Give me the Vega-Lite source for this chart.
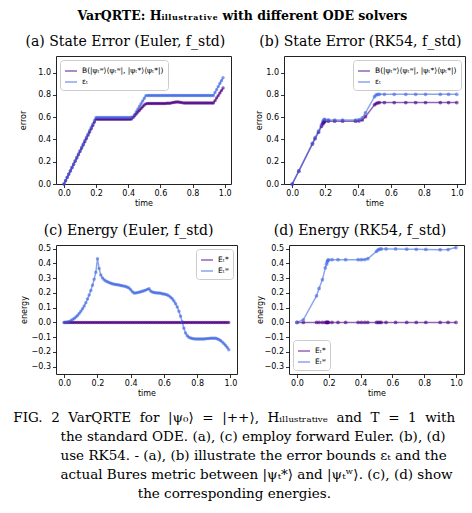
{
"$schema": "https://vega.github.io/schema/vega-lite/v6.json",
"padding": {"left": 13, "top": 10, "right": 4, "bottom": 2},
"background": "white",
"title": {"text": ["FIG. \u00a02 \u00a0VarQRTE \u00a0for \u00a0|ψ₀⟩ \u00a0= \u00a0|++⟩, \u00a0Hᵢₗₗᵤₛₜᵣₐₜᵢᵥₑ \u00a0and \u00a0T \u00a0= \u00a01 \u00a0with", "\u200b\u00a0\u00a0\u00a0\u00a0\u00a0\u00a0\u00a0\u00a0\u00a0\u00a0\u00a0the standard ODE. (a), (c) employ forward Euler. (b), (d)", "\u200b\u00a0\u00a0\u00a0\u00a0\u00a0\u00a0\u00a0\u00a0\u00a0\u00a0\u00a0use RK54. - (a), (b) illustrate the error bounds εₜ and the", "\u200b\u00a0\u00a0\u00a0\u00a0\u00a0\u00a0\u00a0\u00a0\u00a0\u00a0\u00a0actual Bures metric between |ψₜ*⟩ and |ψₜʷ⟩. (c), (d) show", "\u200b\u00a0\u00a0\u00a0\u00a0\u00a0\u00a0\u00a0\u00a0\u00a0\u00a0\u00a0\u00a0\u00a0\u00a0\u00a0\u00a0\u00a0\u00a0\u00a0\u00a0\u00a0\u00a0\u00a0\u00a0\u00a0\u00a0\u00a0\u00a0\u00a0the corresponding energies."], "orient": "bottom", "anchor": "start", "frame": "bounds", "font": "DejaVu Serif", "fontSize": 13.5, "fontWeight": "normal", "lineHeight": 19, "offset": 13, "dx": -6, "color": "#000"},
"datasets": {
"euler_err": [
{"t":0,"b":0,"e":0},{"t":0.01,"b":0.029,"e":0.03},{"t":0.02,"b":0.058,"e":0.06},{"t":0.03,"b":0.088,"e":0.09},{"t":0.04,"b":0.117,"e":0.12},{"t":0.05,"b":0.146,"e":0.15},{"t":0.06,"b":0.175,"e":0.18},{"t":0.07,"b":0.205,"e":0.21},{"t":0.08,"b":0.234,"e":0.24},{"t":0.09,"b":0.263,"e":0.27},
{"t":0.1,"b":0.292,"e":0.3},{"t":0.11,"b":0.322,"e":0.33},{"t":0.12,"b":0.351,"e":0.36},{"t":0.13,"b":0.38,"e":0.39},{"t":0.14,"b":0.409,"e":0.42},{"t":0.15,"b":0.439,"e":0.45},{"t":0.16,"b":0.468,"e":0.48},{"t":0.17,"b":0.497,"e":0.51},{"t":0.18,"b":0.526,"e":0.54},{"t":0.19,"b":0.556,"e":0.57},
{"t":0.2,"b":0.583,"e":0.598},{"t":0.21,"b":0.582,"e":0.598},{"t":0.22,"b":0.582,"e":0.598},{"t":0.23,"b":0.582,"e":0.598},{"t":0.24,"b":0.582,"e":0.598},{"t":0.25,"b":0.582,"e":0.598},{"t":0.26,"b":0.582,"e":0.598},{"t":0.27,"b":0.582,"e":0.598},{"t":0.28,"b":0.582,"e":0.598},{"t":0.29,"b":0.582,"e":0.598},
{"t":0.3,"b":0.582,"e":0.598},{"t":0.31,"b":0.582,"e":0.598},{"t":0.32,"b":0.582,"e":0.598},{"t":0.33,"b":0.582,"e":0.598},{"t":0.34,"b":0.582,"e":0.598},{"t":0.35,"b":0.582,"e":0.598},{"t":0.36,"b":0.582,"e":0.598},{"t":0.37,"b":0.582,"e":0.598},{"t":0.38,"b":0.582,"e":0.598},{"t":0.39,"b":0.582,"e":0.598},
{"t":0.4,"b":0.582,"e":0.598},{"t":0.41,"b":0.582,"e":0.598},{"t":0.42,"b":0.584,"e":0.599},{"t":0.43,"b":0.598,"e":0.602},{"t":0.44,"b":0.614,"e":0.624},{"t":0.45,"b":0.63,"e":0.649},{"t":0.46,"b":0.646,"e":0.673},{"t":0.47,"b":0.662,"e":0.698},{"t":0.48,"b":0.678,"e":0.722},{"t":0.49,"b":0.694,"e":0.746},
{"t":0.5,"b":0.71,"e":0.771},{"t":0.51,"b":0.72,"e":0.794},{"t":0.52,"b":0.723,"e":0.795},{"t":0.53,"b":0.724,"e":0.795},{"t":0.54,"b":0.724,"e":0.795},{"t":0.55,"b":0.724,"e":0.795},{"t":0.56,"b":0.724,"e":0.795},{"t":0.57,"b":0.724,"e":0.795},{"t":0.58,"b":0.724,"e":0.795},{"t":0.59,"b":0.724,"e":0.795},
{"t":0.6,"b":0.724,"e":0.795},{"t":0.61,"b":0.724,"e":0.795},{"t":0.62,"b":0.724,"e":0.795},{"t":0.63,"b":0.724,"e":0.795},{"t":0.64,"b":0.725,"e":0.795},{"t":0.65,"b":0.725,"e":0.795},{"t":0.66,"b":0.726,"e":0.795},{"t":0.67,"b":0.729,"e":0.795},{"t":0.68,"b":0.732,"e":0.795},{"t":0.69,"b":0.735,"e":0.795},
{"t":0.7,"b":0.737,"e":0.795},{"t":0.71,"b":0.737,"e":0.795},{"t":0.72,"b":0.735,"e":0.795},{"t":0.73,"b":0.732,"e":0.795},{"t":0.74,"b":0.729,"e":0.795},{"t":0.75,"b":0.727,"e":0.795},{"t":0.76,"b":0.727,"e":0.795},{"t":0.77,"b":0.727,"e":0.795},{"t":0.78,"b":0.727,"e":0.795},{"t":0.79,"b":0.727,"e":0.795},
{"t":0.8,"b":0.727,"e":0.795},{"t":0.81,"b":0.727,"e":0.795},{"t":0.82,"b":0.727,"e":0.795},{"t":0.83,"b":0.727,"e":0.795},{"t":0.84,"b":0.727,"e":0.795},{"t":0.85,"b":0.727,"e":0.795},{"t":0.86,"b":0.727,"e":0.795},{"t":0.87,"b":0.727,"e":0.795},{"t":0.88,"b":0.727,"e":0.795},{"t":0.89,"b":0.727,"e":0.795},
{"t":0.9,"b":0.727,"e":0.795},{"t":0.91,"b":0.727,"e":0.795},{"t":0.92,"b":0.727,"e":0.795},{"t":0.93,"b":0.728,"e":0.796},{"t":0.94,"b":0.749,"e":0.822},{"t":0.95,"b":0.772,"e":0.848},{"t":0.96,"b":0.794,"e":0.875},{"t":0.97,"b":0.817,"e":0.902},{"t":0.98,"b":0.839,"e":0.928},{"t":0.99,"b":0.862,"e":0.955}
],
"rk_err": [
{"t":0,"b":0,"e":0},{"t":0.04,"b":0.115,"e":0.117},{"t":0.123,"b":0.36,"e":0.366},{"t":0.139,"b":0.408,"e":0.416},{"t":0.16,"b":0.466,"e":0.476},{"t":0.178,"b":0.518,"e":0.534},{"t":0.186,"b":0.54,"e":0.558},{"t":0.19,"b":0.55,"e":0.57},{"t":0.194,"b":0.557,"e":0.578},{"t":0.198,"b":0.562,"e":0.581},
{"t":0.22,"b":0.564,"e":0.576},{"t":0.258,"b":0.564,"e":0.575},{"t":0.306,"b":0.564,"e":0.575},{"t":0.385,"b":0.564,"e":0.575},{"t":0.405,"b":0.566,"e":0.578},{"t":0.426,"b":0.575,"e":0.595},{"t":0.445,"b":0.605,"e":0.64},{"t":0.5,"b":0.712,"e":0.785},{"t":0.51,"b":0.723,"e":0.8},{"t":0.52,"b":0.729,"e":0.805},
{"t":0.53,"b":0.732,"e":0.806},{"t":0.56,"b":0.732,"e":0.806},{"t":0.62,"b":0.732,"e":0.806},{"t":0.69,"b":0.732,"e":0.806},{"t":0.75,"b":0.732,"e":0.806},{"t":0.81,"b":0.732,"e":0.806},{"t":0.9,"b":0.732,"e":0.806},{"t":0.95,"b":0.732,"e":0.806},{"t":1.0,"b":0.732,"e":0.806}
],
"euler_en": [
{"t":0,"s":0,"w":0},{"t":0.01,"s":0,"w":0.001},{"t":0.02,"s":0,"w":0.003},{"t":0.03,"s":0,"w":0.007},{"t":0.04,"s":0,"w":0.012},{"t":0.05,"s":0,"w":0.019},{"t":0.06,"s":0,"w":0.027},{"t":0.07,"s":0,"w":0.036},{"t":0.08,"s":0,"w":0.047},{"t":0.09,"s":0,"w":0.06},
{"t":0.1,"s":0,"w":0.075},{"t":0.11,"s":0,"w":0.092},{"t":0.12,"s":0,"w":0.111},{"t":0.13,"s":0,"w":0.133},{"t":0.14,"s":0,"w":0.158},{"t":0.15,"s":0,"w":0.186},{"t":0.16,"s":0,"w":0.217},{"t":0.17,"s":0,"w":0.252},{"t":0.18,"s":0,"w":0.292},{"t":0.19,"s":0,"w":0.34},
{"t":0.2,"s":0,"w":0.432},{"t":0.21,"s":0,"w":0.365},{"t":0.22,"s":0,"w":0.322},{"t":0.23,"s":0,"w":0.302},{"t":0.24,"s":0,"w":0.29},{"t":0.25,"s":0,"w":0.281},{"t":0.26,"s":0,"w":0.275},{"t":0.27,"s":0,"w":0.27},{"t":0.28,"s":0,"w":0.266},{"t":0.29,"s":0,"w":0.262},
{"t":0.3,"s":0,"w":0.259},{"t":0.31,"s":0,"w":0.257},{"t":0.32,"s":0,"w":0.255},{"t":0.33,"s":0,"w":0.253},{"t":0.34,"s":0,"w":0.251},{"t":0.35,"s":0,"w":0.249},{"t":0.36,"s":0,"w":0.246},{"t":0.37,"s":0,"w":0.243},{"t":0.38,"s":0,"w":0.239},{"t":0.39,"s":0,"w":0.233},
{"t":0.4,"s":0,"w":0.222},{"t":0.41,"s":0,"w":0.208},{"t":0.42,"s":0,"w":0.2},{"t":0.43,"s":0,"w":0.199},{"t":0.44,"s":0,"w":0.202},{"t":0.45,"s":0,"w":0.205},{"t":0.46,"s":0,"w":0.208},{"t":0.47,"s":0,"w":0.211},{"t":0.48,"s":0,"w":0.214},{"t":0.49,"s":0,"w":0.219},
{"t":0.5,"s":0,"w":0.224},{"t":0.51,"s":0,"w":0.229},{"t":0.52,"s":0,"w":0.213},{"t":0.53,"s":0,"w":0.206},{"t":0.54,"s":0,"w":0.203},{"t":0.55,"s":0,"w":0.201},{"t":0.56,"s":0,"w":0.2},{"t":0.57,"s":0,"w":0.199},{"t":0.58,"s":0,"w":0.197},{"t":0.59,"s":0,"w":0.195},
{"t":0.6,"s":0,"w":0.193},{"t":0.61,"s":0,"w":0.19},{"t":0.62,"s":0,"w":0.186},{"t":0.63,"s":0,"w":0.18},{"t":0.64,"s":0,"w":0.171},{"t":0.65,"s":0,"w":0.16},{"t":0.66,"s":0,"w":0.145},{"t":0.67,"s":0,"w":0.127},{"t":0.68,"s":0,"w":0.104},{"t":0.69,"s":0,"w":0.076},
{"t":0.7,"s":0,"w":0.042},{"t":0.71,"s":0,"w":0.002},{"t":0.72,"s":0,"w":-0.04},{"t":0.73,"s":0,"w":-0.072},{"t":0.74,"s":0,"w":-0.09},{"t":0.75,"s":0,"w":-0.1},{"t":0.76,"s":0,"w":-0.106},{"t":0.77,"s":0,"w":-0.109},{"t":0.78,"s":0,"w":-0.111},{"t":0.79,"s":0,"w":-0.112},
{"t":0.8,"s":0,"w":-0.113},{"t":0.81,"s":0,"w":-0.113},{"t":0.82,"s":0,"w":-0.113},{"t":0.83,"s":0,"w":-0.113},{"t":0.84,"s":0,"w":-0.112},{"t":0.85,"s":0,"w":-0.111},{"t":0.86,"s":0,"w":-0.11},{"t":0.87,"s":0,"w":-0.109},{"t":0.88,"s":0,"w":-0.108},{"t":0.89,"s":0,"w":-0.107},
{"t":0.9,"s":0,"w":-0.107},{"t":0.91,"s":0,"w":-0.108},{"t":0.92,"s":0,"w":-0.111},{"t":0.93,"s":0,"w":-0.116},{"t":0.94,"s":0,"w":-0.123},{"t":0.95,"s":0,"w":-0.132},{"t":0.96,"s":0,"w":-0.143},{"t":0.97,"s":0,"w":-0.155},{"t":0.98,"s":0,"w":-0.169},{"t":0.99,"s":0,"w":-0.185}
],
"rk_en": [
{"t":0,"s":0,"w":0},{"t":0.04,"s":0,"w":0.018},{"t":0.123,"s":0,"w":0.18},{"t":0.139,"s":0,"w":0.23},{"t":0.16,"s":0,"w":0.29},{"t":0.178,"s":0,"w":0.37},{"t":0.186,"s":0,"w":0.395},{"t":0.19,"s":0,"w":0.41},{"t":0.194,"s":0,"w":0.42},{"t":0.198,"s":0,"w":0.424},
{"t":0.22,"s":0,"w":0.425},{"t":0.258,"s":0,"w":0.425},{"t":0.306,"s":0,"w":0.425},{"t":0.385,"s":0,"w":0.425},{"t":0.405,"s":0,"w":0.425},{"t":0.426,"s":0,"w":0.426},{"t":0.445,"s":0,"w":0.432},{"t":0.5,"s":0,"w":0.482},{"t":0.51,"s":0,"w":0.492},{"t":0.52,"s":0,"w":0.497},
{"t":0.53,"s":0,"w":0.498},{"t":0.56,"s":0,"w":0.498},{"t":0.62,"s":0,"w":0.498},{"t":0.69,"s":0,"w":0.497},{"t":0.75,"s":0,"w":0.496},{"t":0.81,"s":0,"w":0.495},{"t":0.9,"s":0,"w":0.493},{"t":0.95,"s":0,"w":0.494},{"t":1.0,"s":0,"w":0.508}
]
},
"vconcat": [
{
"title": {"text": "VarQRTE: Hᵢₗₗᵤₛₜᵣₐₜᵢᵥₑ with different ODE solvers", "font": "DejaVu Serif", "fontWeight": "bold", "fontSize": 12.5, "anchor": "middle", "frame": "bounds", "offset": 12},
"columns": 2,
"align": "none",
"spacing": {"row": 15, "column": 17},
"resolve": {"scale": {"color": "independent", "x": "independent", "y": "independent"}, "legend": {"color": "independent"}},
"concat": [
{
"width": 175, "height": 128,
"title": {"text": "(a) State Error (Euler, f_std)"},
"data": {"name": "euler_err"},
"transform": [{"fold": ["b", "e"], "as": ["k", "v"]}],
"mark": {"type": "line", "opacity": 0.6, "strokeWidth": 1.5, "point": {"filled": true, "size": 12, "opacity": 0.6}},
"encoding": {
"x": {"field": "t", "type": "quantitative", "scale": {"domain": [-0.0495, 1.0395], "nice": false, "zero": false}, "axis": {"values": [0, 0.2, 0.4, 0.6, 0.8, 1.0], "format": ".1f", "title": "time"}},
"y": {"field": "v", "type": "quantitative", "scale": {"domain": [0, 1.15], "nice": false}, "axis": {"values": [0, 0.2, 0.4, 0.6, 0.8, 1.0], "format": ".1f", "title": "error", "titlePadding": 10}},
"color": {"field": "k", "type": "nominal", "scale": {"domain": ["b", "e"], "range": ["#4b0082", "#4169e1"]}, "legend": {"title": null, "orient": "top-left", "symbolType": "stroke", "labelExpr": "datum.label === 'b' ? 'B(|ψₜʷ⟩⟨ψₜʷ|, |ψₜ*⟩⟨ψₜ*|)' : 'εₜ'"}}
}
},
{
"width": 181, "height": 128,
"title": {"text": "(b) State Error (RK54, f_std)"},
"data": {"name": "rk_err"},
"transform": [{"fold": ["b", "e"], "as": ["k", "v"]}],
"mark": {"type": "line", "opacity": 0.6, "strokeWidth": 1.5, "point": {"filled": true, "size": 14, "opacity": 0.6}},
"encoding": {
"x": {"field": "t", "type": "quantitative", "scale": {"domain": [-0.05, 1.05], "nice": false, "zero": false}, "axis": {"values": [0, 0.2, 0.4, 0.6, 0.8, 1.0], "format": ".1f", "title": "time"}},
"y": {"field": "v", "type": "quantitative", "scale": {"domain": [0, 1.15], "nice": false}, "axis": {"values": [0, 0.2, 0.4, 0.6, 0.8, 1.0], "format": ".1f", "title": "error", "titlePadding": 2}},
"color": {"field": "k", "type": "nominal", "scale": {"domain": ["b", "e"], "range": ["#4b0082", "#4169e1"]}, "legend": {"title": null, "orient": "top-right", "symbolType": "stroke", "labelExpr": "datum.label === 'b' ? 'B(|ψₜʷ⟩⟨ψₜʷ|, |ψₜ*⟩⟨ψₜ*|)' : 'εₜ'"}}
}
},
{
"width": 181, "height": 129,
"title": {"text": "(c) Energy (Euler, f_std)"},
"data": {"name": "euler_en"},
"transform": [{"fold": ["s", "w"], "as": ["k", "v"]}],
"mark": {"type": "line", "opacity": 0.6, "strokeWidth": 1.5, "point": {"filled": true, "size": 12, "opacity": 0.6}},
"encoding": {
"x": {"field": "t", "type": "quantitative", "scale": {"domain": [-0.0495, 1.0395], "nice": false, "zero": false}, "axis": {"values": [0, 0.2, 0.4, 0.6, 0.8, 1.0], "format": ".1f", "title": "time"}},
"y": {"field": "v", "type": "quantitative", "scale": {"domain": [-0.35, 0.525], "nice": false, "zero": false}, "axis": {"values": [-0.3, -0.2, -0.1, 0, 0.1, 0.2, 0.3, 0.4, 0.5], "format": ".1f", "title": "energy", "titlePadding": 3}},
"color": {"field": "k", "type": "nominal", "scale": {"domain": ["s", "w"], "range": ["#4b0082", "#4169e1"]}, "legend": {"title": null, "orient": "top-right", "symbolType": "stroke", "labelExpr": "datum.label === 's' ? 'Eₜ*' : 'Eₜʷ'"}}
}
},
{
"width": 175, "height": 129,
"title": {"text": "(d) Energy (RK54, f_std)"},
"data": {"name": "rk_en"},
"transform": [{"fold": ["s", "w"], "as": ["k", "v"]}],
"mark": {"type": "line", "opacity": 0.6, "strokeWidth": 1.5, "point": {"filled": true, "size": 14, "opacity": 0.6}},
"encoding": {
"x": {"field": "t", "type": "quantitative", "scale": {"domain": [-0.05, 1.05], "nice": false, "zero": false}, "axis": {"values": [0, 0.2, 0.4, 0.6, 0.8, 1.0], "format": ".1f", "title": "time"}},
"y": {"field": "v", "type": "quantitative", "scale": {"domain": [-0.35, 0.525], "nice": false, "zero": false}, "axis": {"values": [-0.3, -0.2, -0.1, 0, 0.1, 0.2, 0.3, 0.4, 0.5], "format": ".1f", "title": "energy", "titlePadding": 0}},
"color": {"field": "k", "type": "nominal", "scale": {"domain": ["s", "w"], "range": ["#4b0082", "#4169e1"]}, "legend": {"title": null, "orient": "bottom-left", "symbolType": "stroke", "labelExpr": "datum.label === 's' ? 'Eₜ*' : 'Eₜʷ'"}}
}
}
]
}
],
"config": {
"view": {"stroke": "#222", "strokeWidth": 1},
"axis": {"domain": false, "grid": false, "tickColor": "#000", "tickSize": 3.5, "tickWidth": 0.8, "labelFont": "DejaVu Sans", "labelFontSize": 8, "labelColor": "#000", "labelPadding": 2, "titleFont": "DejaVu Sans", "titleFontSize": 8, "titleFontWeight": "normal", "titleColor": "#000", "titlePadding": 2},
"legend": {"padding": 4, "cornerRadius": 3, "fillColor": "rgba(255,255,255,0.8)", "strokeColor": "#cccccc", "labelFont": "DejaVu Sans", "labelFontSize": 7.5, "labelColor": "#000", "symbolType": "stroke", "symbolSize": 144, "symbolStrokeWidth": 1.5, "symbolOpacity": 0.6, "rowPadding": 0, "labelLimit": 300, "offset": 4},
"title": {"font": "DejaVu Serif", "fontSize": 14, "fontWeight": "normal", "color": "#000", "anchor": "middle", "frame": "bounds", "offset": 7}
}
}
